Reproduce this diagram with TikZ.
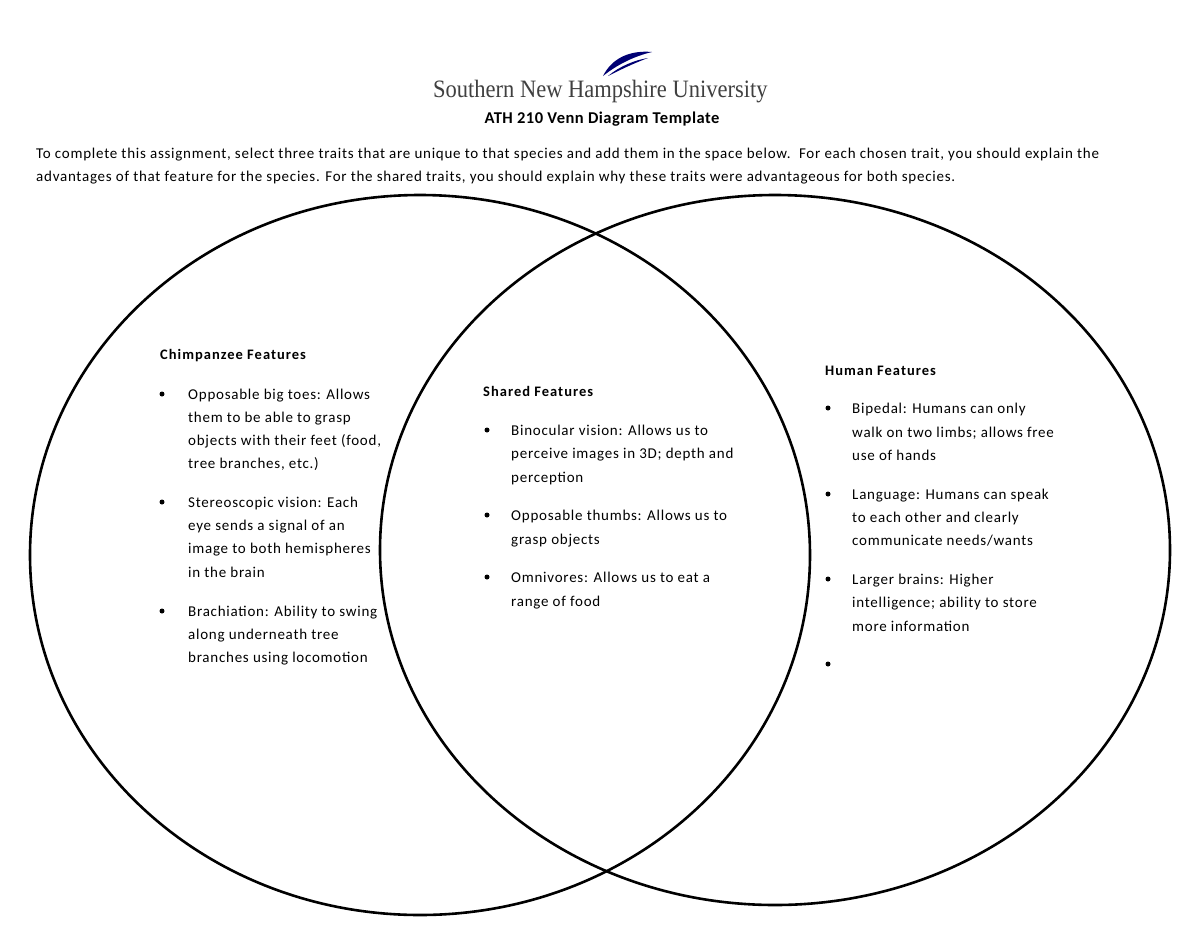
\documentclass[tikz,border=0pt]{standalone}
\usepackage{fontspec}
\setmainfont{Carlito}
\newfontfamily\bodyfont[LetterSpace=5]{Carlito}
\newfontfamily\headfont[LetterSpace=7]{Carlito}
\newfontfamily\titlefont[LetterSpace=3]{Carlito}
\newfontfamily\logofont[FakeStretch=0.9]{Liberation Serif}
\begin{document}
\begin{tikzpicture}[x=1pt,y=-1pt,
  t/.style={anchor=base west,inner sep=0pt,font=\bodyfont\fontsize{15}{16}\selectfont},
  hd/.style={anchor=base west,inner sep=0pt,font=\headfont\fontsize{14.5}{16}\selectfont\bfseries},
  bul/.style={circle,fill=black,inner sep=0pt,minimum size=5pt},
  venn/.style={draw=black,line width=2.6pt}]
\useasboundingbox[fill=white] (0,0) rectangle (1200,927);
% logo
\node[anchor=base west,inner sep=0pt,font=\logofont\fontsize{25}{30}\selectfont,text=black!75] (logo) at (433,97) {Southern New Hampshire University};
\fill[blue!45!black] (603,76) .. controls (612,58) and (630,50) .. (652,52) .. controls (635,56) and (618,64) .. (603,76) -- cycle;
\fill[blue!45!black] (608,76) .. controls (620,66) and (635,60) .. (648,58) .. controls (632,64) and (620,70) .. (608,76) -- cycle;
\node[anchor=base,inner sep=0pt,font=\titlefont\fontsize{16.5}{18}\selectfont\bfseries] (title) at (602,123) {ATH 210 Venn Diagram Template};
\node[t] (i1) at (36,158) {To complete this assignment, select three traits that are unique to that species and add them in the space below.\ \ For each chosen trait, you should explain the};
\node[t] (i2) at (36,181) {advantages of that feature for the species. For the shared traits, you should explain why these traits were advantageous for both species.};
% circles
\draw[venn] (420,555) ellipse [x radius=390, y radius=360];
\draw[venn] (775,550) ellipse [x radius=395, y radius=355];
% chimp
\node[hd] (ch) at (160,359) {Chimpanzee Features};
\node[bul] (cb1) at (162,394) {};
\node[t] (c11) at (188,399) {Opposable big toes: Allows};
\node[t] (c12) at (188,422) {them to be able to grasp};
\node[t] (c13) at (188,445) {objects with their feet (food,};
\node[t] (c14) at (188,468) {tree branches, etc.)};
\node[bul] (cb2) at (162,502) {};
\node[t] (c21) at (188,507) {Stereoscopic vision: Each};
\node[t] (c22) at (188,530) {eye sends a signal of an};
\node[t] (c23) at (188,553) {image to both hemispheres};
\node[t] (c24) at (188,577) {in the brain};
\node[bul] (cb3) at (162,611) {};
\node[t] (c31) at (188,616) {Brachiation: Ability to swing};
\node[t] (c32) at (188,639) {along underneath tree};
\node[t] (c33) at (188,662) {branches using locomotion};
% shared
\node[hd] (sh) at (483,396) {Shared Features};
\node[bul] (sb1) at (487,430) {};
\node[t] (s11) at (511,435) {Binocular vision: Allows us to};
\node[t] (s12) at (511,458) {perceive images in 3D; depth and};
\node[t] (s13) at (511,482) {perception};
\node[bul] (sb2) at (487,515) {};
\node[t] (s21) at (511,520) {Opposable thumbs: Allows us to};
\node[t] (s22) at (511,544) {grasp objects};
\node[bul] (sb3) at (487,577) {};
\node[t] (s31) at (511,582) {Omnivores: Allows us to eat a};
\node[t] (s32) at (511,606) {range of food};
% human
\node[hd] (hh) at (825,375) {Human Features};
\node[bul] (hb1) at (828,408) {};
\node[t] (h11) at (852,413) {Bipedal: Humans can only};
\node[t] (h12) at (852,437) {walk on two limbs; allows free};
\node[t] (h13) at (852,460) {use of hands};
\node[bul] (hb2) at (828,494) {};
\node[t] (h21) at (852,499) {Language: Humans can speak};
\node[t] (h22) at (852,522) {to each other and clearly};
\node[t] (h23) at (852,545) {communicate needs/wants};
\node[bul] (hb3) at (828,579) {};
\node[t] (h31) at (852,584) {Larger brains: Higher};
\node[t] (h32) at (852,607) {intelligence; ability to store};
\node[t] (h33) at (852,631) {more information};
\node[bul] (hb4) at (828,664) {};
\end{tikzpicture}
\end{document}
